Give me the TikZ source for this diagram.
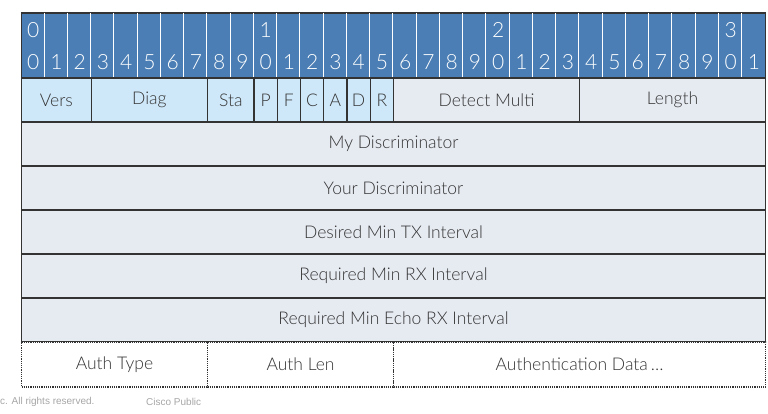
\documentclass[tikz,border=0pt]{standalone}
\usepackage{fontspec}
\setmainfont{Lato Light}
\newfontfamily\footfont{Liberation Sans}
\usepackage{xcolor}
\usepackage{tikz}
\usetikzlibrary{positioning,calc}

\definecolor{hdrblue}{HTML}{4A7EB5}
\definecolor{flagblue}{HTML}{CFE8F9}
\definecolor{rowgrey}{HTML}{E6EAF1}
\definecolor{txtgrey}{HTML}{333333}
\definecolor{borderc}{HTML}{333333}

\begin{document}
\begin{tikzpicture}[x=1pt,y=-1pt,
									field/.style = {rectangle, draw=borderc, line width=1.2pt, inner sep=0pt, outer sep=0pt, minimum height=44pt, text=txtgrey, font=\fontsize{17.5}{17.5}\selectfont},
									flag/.style = {field, fill=flagblue},
									word/.style = {field, fill=rowgrey, minimum width=744pt},
									auth/.style = {field, fill=white, draw=black!80, densely dotted, minimum height=45pt},
									digit/.style = {text=white, inner sep=0pt, font=\fontsize{21}{21}\selectfont},
									foot/.style = {anchor=west, inner sep=0pt, text=black!35, font=\footfont\fontsize{10}{10}\selectfont}]
					\useasboundingbox (0,0) rectangle (768,413);
					% header with bit numbers
					\node[rectangle, fill=hdrblue, draw=borderc, line width=1.2pt, minimum width=744pt, minimum height=65pt, inner sep=0pt] (hdr) at (393.5,45.5) {};
					\foreach \i in {1,...,31}
						\draw[white, line width=0.9pt] ($(hdr.north west)+(\i*23.25,1)$) -- ($(hdr.south west)+(\i*23.25,-1)$);
					\foreach \i in {0,...,31} {
						\pgfmathtruncatemacro{\d}{mod(\i,10)}
						\node[digit] (b\i) at (21.5+\i*23.25+11.6,62) {\d};
					}
					\node[digit] (t0) at (b0 |- 0,30) {0};
					\node[digit] (t1) at (b10 |- 0,30) {1};
					\node[digit] (t2) at (b20 |- 0,30) {2};
					\node[digit] (t3) at (b30 |- 0,30) {3};

					% first word
					\node[flag, minimum width=69.75pt] (vers) at (56.375,100) {Vers};
					\node[flag, minimum width=116.25pt] (diag) at (149.375,100) {Diag};
					\node[flag, minimum width=46.5pt] (sta) at (230.75,100) {Sta};
					\node[flag, minimum width=23.25pt] (p) at (265.625,100) {P};
					\node[flag, minimum width=23.25pt] (f) at (288.875,100) {F};
					\node[flag, minimum width=23.25pt] (c) at (312.125,100) {C};
					\node[flag, minimum width=23.25pt] (a) at (335.375,100) {A};
					\node[flag, minimum width=23.25pt] (d) at (358.625,100) {D};
					\node[flag, minimum width=23.25pt] (r) at (381.875,100) {R};
					\node[field, fill=rowgrey, minimum width=186pt] (mult) at (486.5,100) {Detect Multi};
					\node[field, fill=rowgrey, minimum width=186pt] (len) at (672.5,100) {Length};

					% full words
					\node[word] (mydisc) at (393.5,144) {My Discriminator};
					\node[word] (yourdisc) at (393.5,188) {Your Discriminator};
					\node[word] (txint) at (393.5,232) {Desired Min TX Interval};
					\node[word] (rxint) at (393.5,276) {Required Min RX Interval};
					\node[word] (echoint) at (393.5,320) {Required Min Echo RX Interval};

					% optional auth section
					\node[auth, minimum width=186pt] (atype) at (114.5,364.5) {Auth Type};
					\node[auth, minimum width=186pt] (alen) at (300.5,364.5) {Auth Len};
					\node[auth, minimum width=372pt] (adata) at (579.5,364.5) {Authentication Data\,\dots};

					% footer
					\node[foot] (copy) at (0,402) {c. All rights reserved.};
					\node[foot] (pub) at (146,402) {Cisco Public};
				\end{tikzpicture}
\end{document}
